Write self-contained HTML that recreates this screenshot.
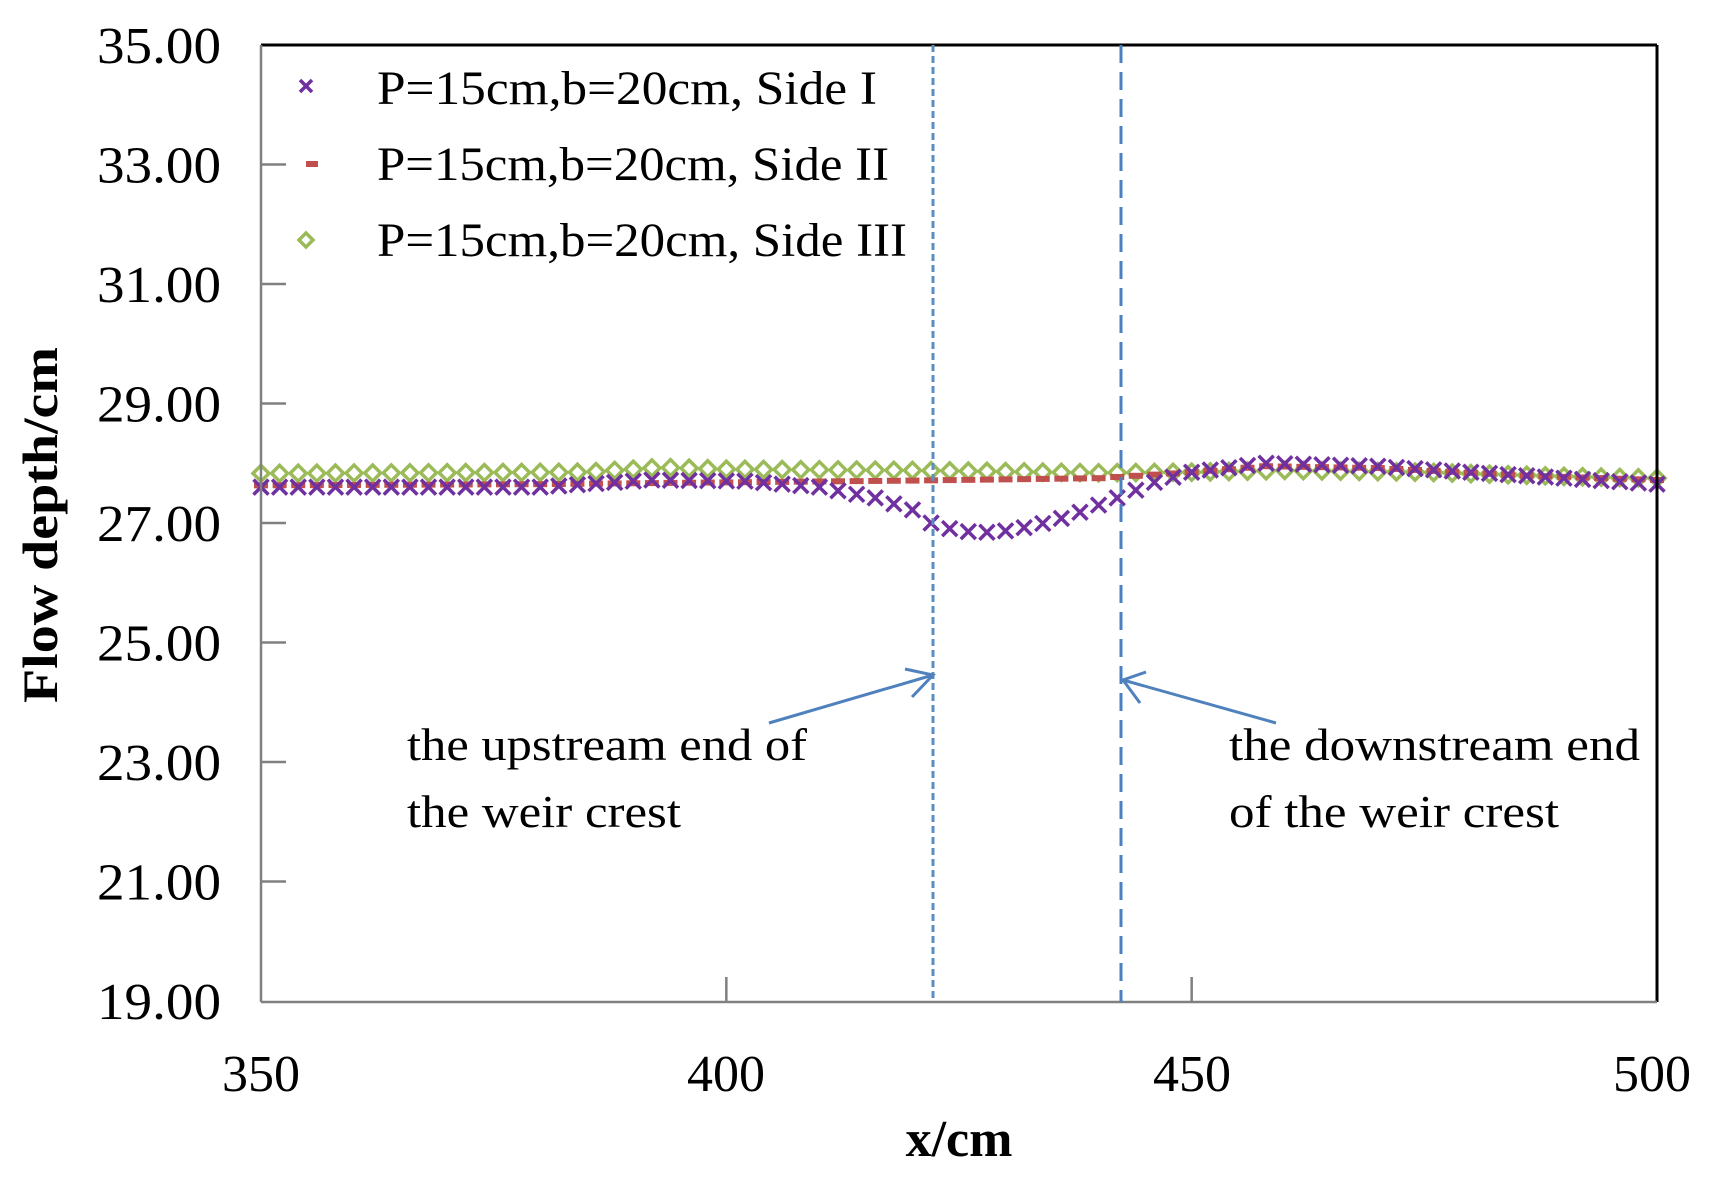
<!DOCTYPE html>
<html><head><meta charset="utf-8"><style>
html,body{margin:0;padding:0;background:#fff;}
svg{display:block;}
text{font-family:"Liberation Serif",serif;fill:#000;}
</style></head><body>
<svg id="s" width="1713" height="1186" viewBox="0 0 1713 1186" xmlns="http://www.w3.org/2000/svg">
<rect width="1713" height="1186" fill="#fff"/>
<g id="data"></g>
<line x1="261" y1="45" x2="1657" y2="45" stroke="#000" stroke-width="3"/>
<line x1="1657" y1="45" x2="1657" y2="1002" stroke="#000" stroke-width="3"/>
<line x1="261" y1="45" x2="261" y2="1002" stroke="#808080" stroke-width="2.5"/>
<line x1="261" y1="1002" x2="1657" y2="1002" stroke="#808080" stroke-width="2.5"/>
<g stroke="#808080" stroke-width="2.5" id="ticks"></g>
<g id="ylab" font-size="52"></g>
<g font-size="52" text-anchor="middle">
<text x="261" y="1091">350</text>
<text x="726" y="1091">400</text>
<text x="1192" y="1091">450</text>
<text x="1652" y="1091">500</text>
</g>
<text x="959" y="1156" font-size="52" font-weight="bold" text-anchor="middle">x/cm</text>
<text transform="translate(57,525) rotate(-90)" font-size="50" font-weight="bold" text-anchor="middle" textLength="356" lengthAdjust="spacingAndGlyphs">Flow depth/cm</text>
<line x1="933" y1="45" x2="933" y2="1002" stroke="#5b8fc4" stroke-width="3" stroke-dasharray="7,4"/>
<line x1="1121" y1="45" x2="1121" y2="1002" stroke="#4a7fc0" stroke-width="3" stroke-dasharray="18,9"/>
<g stroke="#4f81bd" stroke-width="3" fill="none">
<line x1="769" y1="723" x2="933" y2="675"/>
<polyline points="905,669 933,675 912,697"/>
<line x1="1276" y1="723" x2="1123" y2="680"/>
<polyline points="1146,672 1123,680 1140,703"/>
</g>
<g font-size="46">
<text x="407" y="760" textLength="400" lengthAdjust="spacingAndGlyphs">the upstream end of</text>
<text x="407" y="827" textLength="274" lengthAdjust="spacingAndGlyphs">the weir crest</text>
<text x="1229" y="760" textLength="411" lengthAdjust="spacingAndGlyphs">the downstream end</text>
<text x="1229" y="827" textLength="330" lengthAdjust="spacingAndGlyphs">of the weir crest</text>
</g>
<g font-size="48">
<text x="377" y="104" textLength="500" lengthAdjust="spacingAndGlyphs">P=15cm,b=20cm, Side I</text>
<text x="377" y="180" textLength="512" lengthAdjust="spacingAndGlyphs">P=15cm,b=20cm, Side II</text>
<text x="377" y="256" textLength="530" lengthAdjust="spacingAndGlyphs">P=15cm,b=20cm, Side III</text>
</g>
<g id="leg"></g>
</svg>
<script>
(function(){
var NS="http://www.w3.org/2000/svg";
function el(p,t,a){var e=document.createElementNS(NS,t);for(var k in a)e.setAttribute(k,a[k]);p.appendChild(e);return e;}
function X(x){return 261+(x-350)*(1396/150);}
function Y(v){return 1001-(v-19)*59.75;}
var ticks=document.getElementById('ticks'),yl=document.getElementById('ylab');
for(var v=19;v<=35;v+=2){var y=Y(v);
 if(v>19&&v<35)el(ticks,'line',{x1:261,y1:y,x2:286,y2:y});
 var t=el(yl,'text',{x:97,y:y+18,textLength:124,lengthAdjust:'spacingAndGlyphs'});t.textContent=v.toFixed(2);}
[400,450].forEach(function(x){el(ticks,'line',{x1:X(x),y1:1002,x2:X(x),y2:977});});
function interp(pts,x){for(var i=0;i<pts.length-1;i++){if(x>=pts[i][0]&&x<=pts[i+1][0]){var f=(x-pts[i][0])/(pts[i+1][0]-pts[i][0]);return pts[i][1]+f*(pts[i+1][1]-pts[i][1]);}}return pts[pts.length-1][1];}
var P=[[350,27.6],[380,27.6],[392,27.72],[402,27.7],[410,27.6],[416,27.42],[420,27.22],[422,27.0],[425,26.86],[429,26.84],[433,26.95],[437,27.12],[442,27.42],[446,27.68],[450,27.85],[458,28.0],[470,27.95],[485,27.8],[500,27.65]];
var R=[[350,27.63],[380,27.65],[420,27.71],[440,27.75],[450,27.85],[458,27.95],[470,27.92],[485,27.8],[500,27.72]];
var G=[[350,27.83],[385,27.85],[393,27.93],[400,27.9],[420,27.88],[440,27.84],[450,27.85],[460,27.88],[475,27.85],[490,27.78],[500,27.75]];
var d=document.getElementById('data');
var gG=el(d,'g',{stroke:'#9bbb59','stroke-width':3.5,fill:'none'});
var gR=el(d,'g',{stroke:'#c0504d','stroke-width':6});
var gP=el(d,'g',{stroke:'#7030a0','stroke-width':3.5});
function dia(g,cx,cy,s){s=s||8;el(g,'polygon',{points:(cx-s)+','+cy+' '+cx+','+(cy-s)+' '+(cx+s)+','+cy+' '+cx+','+(cy+s)});}
function cross(g,cx,cy,s){s=s||7.5;el(g,'line',{x1:cx-s,y1:cy-s,x2:cx+s,y2:cy+s});el(g,'line',{x1:cx-s,y1:cy+s,x2:cx+s,y2:cy-s});}
function dash(g,cx,cy,s){s=s||7;el(g,'line',{x1:cx-s,y1:cy,x2:cx+s,y2:cy});}
for(var x=350;x<=500;x+=2){
 dia(gG,X(x),Y(interp(G,x)));
 dash(gR,X(x),Y(interp(R,x)));
 cross(gP,X(x),Y(interp(P,x)));
}
var lg=document.getElementById('leg');
var a=el(lg,'g',{stroke:'#7030a0','stroke-width':3.5});cross(a,306,86,6);
var b=el(lg,'g',{stroke:'#c0504d','stroke-width':6});dash(b,312,164,6);
var c=el(lg,'g',{stroke:'#9bbb59','stroke-width':3.5,fill:'none'});dia(c,306,240,7);
})();
</script>
</body></html>
